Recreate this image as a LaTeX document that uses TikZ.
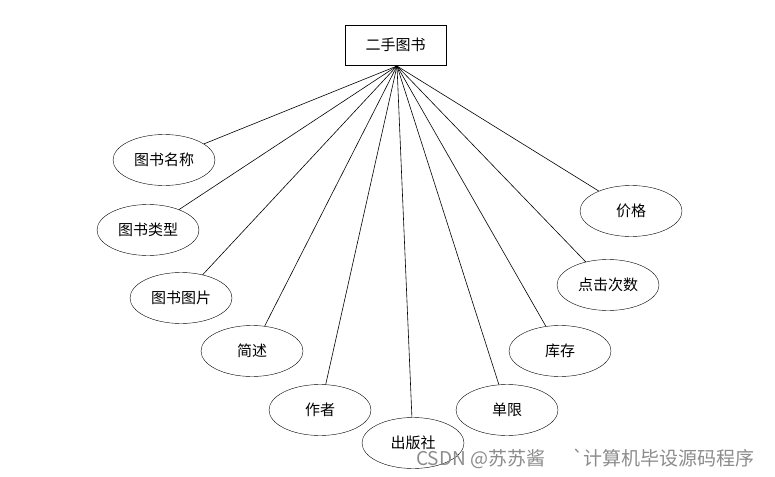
\documentclass[tikz,border=0pt]{standalone}
\usepackage{fontspec}
\usetikzlibrary{shapes.geometric}
\newfontfamily\cjk{Noto Sans CJK SC}
\begin{document}
\begin{tikzpicture}[x=1pt,y=-1pt,
  attr/.style={draw,ellipse,minimum width=102pt,minimum height=51pt,inner sep=0pt,font=\cjk\fontsize{15}{17}\selectfont},
  ent/.style={draw,rectangle,minimum width=101pt,minimum height=40pt,inner sep=0pt,font=\cjk\fontsize{15}{17}\selectfont},
  link/.style={draw,line width=0.6pt}]
\useasboundingbox[fill=white] (0,0) rectangle (775,476);
\node[ent] (root) at (395.5,45) {二手图书};
\coordinate (hub) at (397,66);
\node[attr] (a1) at (164,160) {图书名称};
\node[attr] (a2) at (148,230) {图书类型};
\node[attr] (a3) at (181,298) {图书图片};
\node[attr] (a4) at (252,351) {简述};
\node[attr] (a5) at (320,410) {作者};
\node[attr] (a6) at (413,443) {出版社};
\node[attr] (a7) at (507,410) {单限};
\node[attr] (a8) at (560,351) {库存};
\node[attr] (a9) at (608,285) {点击次数};
\node[attr] (a10) at (631,211) {价格};
\foreach \n in {a1,a2,a3,a4,a5,a6,a7,a8,a9,a10}{\draw[link] (hub) -- (\n);}
\node[anchor=base west,text=black!45,inner sep=0pt,font=\cjk\fontsize{19}{21}\selectfont] (wm) at (416,465) {CSDN @苏苏酱\hspace{27pt}`计算机毕设源码程序};
\end{tikzpicture}
\end{document}
